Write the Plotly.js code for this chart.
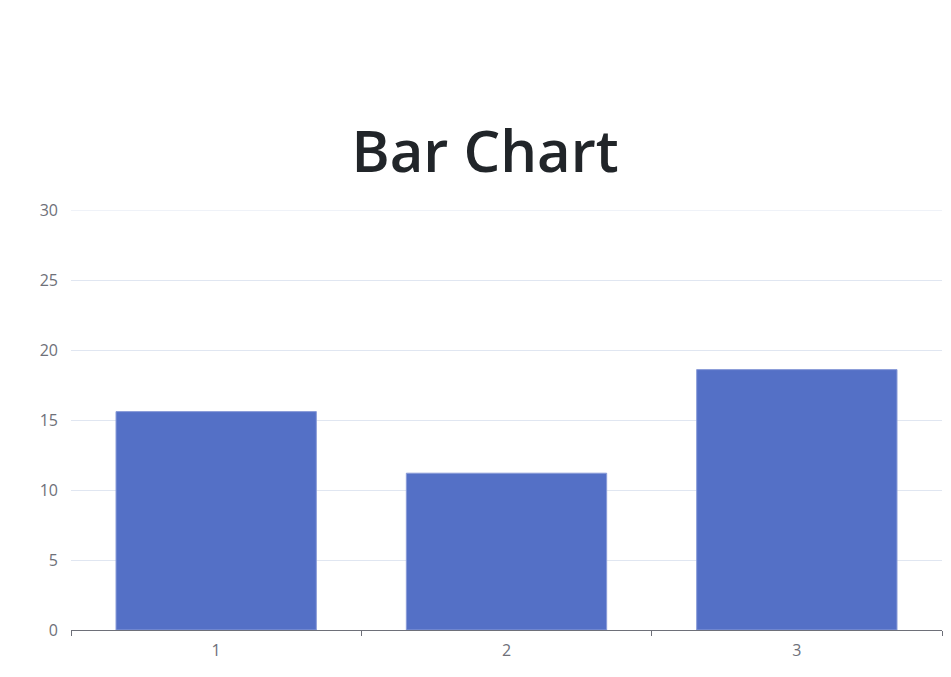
<!DOCTYPE html>
<html><head><meta charset="utf-8">
<script src="https://cdn.plot.ly/plotly-3.0.1.min.js"></script>
<style>body{margin:0;background:#fff}#c{width:951px;height:677px}</style>
</head><body><div id="c"></div>
<script>
const categories = ['1', '2', '3'];
const values = [15.6, 11.2, 18.6];
const yTicks = [0, 5, 10, 15, 20, 25, 30];
const yMax = 30;

Plotly.newPlot('c', [{
  type: 'bar', x: categories, y: values,
  marker: {color: '#5470c6', line: {color: '#8a9cd8', width: 1}},
  hoverinfo: 'x+y'
}], {
  width: 951, height: 677,
  margin: {l: 71, r: 9, t: 210, b: 47},
  paper_bgcolor: '#fff', plot_bgcolor: '#fff',
  bargap: 0.31,
  title: {text: 'Bar Chart', x: 0.51, xanchor: 'center', y: 1 - 152/677, yanchor: 'middle',
          font: {family: 'Open Sans', size: 58, color: '#212529', weight: 600}},
  xaxis: {type: 'category', showgrid: false, showline: true, linecolor: '#6e7079', linewidth: 1,
          ticks: 'outside', tickson: 'boundaries', ticklen: 5, tickcolor: '#6e7079',
          ticklabelstandoff: 6,
          tickfont: {family: 'Open Sans', size: 16, color: '#6e7079'}, zeroline: false, fixedrange: true},
  yaxis: {range: [0, yMax], tickvals: yTicks, showgrid: true, gridcolor: '#e0e6f1', gridwidth: 1,
          zeroline: false, showline: false, ticks: '', ticklabelstandoff: 12,
          tickfont: {family: 'Open Sans', size: 16, color: '#6e7079'}, fixedrange: true},
  shapes: [{type: 'line', xref: 'paper', yref: 'y', x0: 0, x1: 1, y0: yMax, y1: yMax,
            line: {color: '#e0e6f1', width: 1}, layer: 'below'}],
  showlegend: false
}, {displayModeBar: false});
</script></body></html>
